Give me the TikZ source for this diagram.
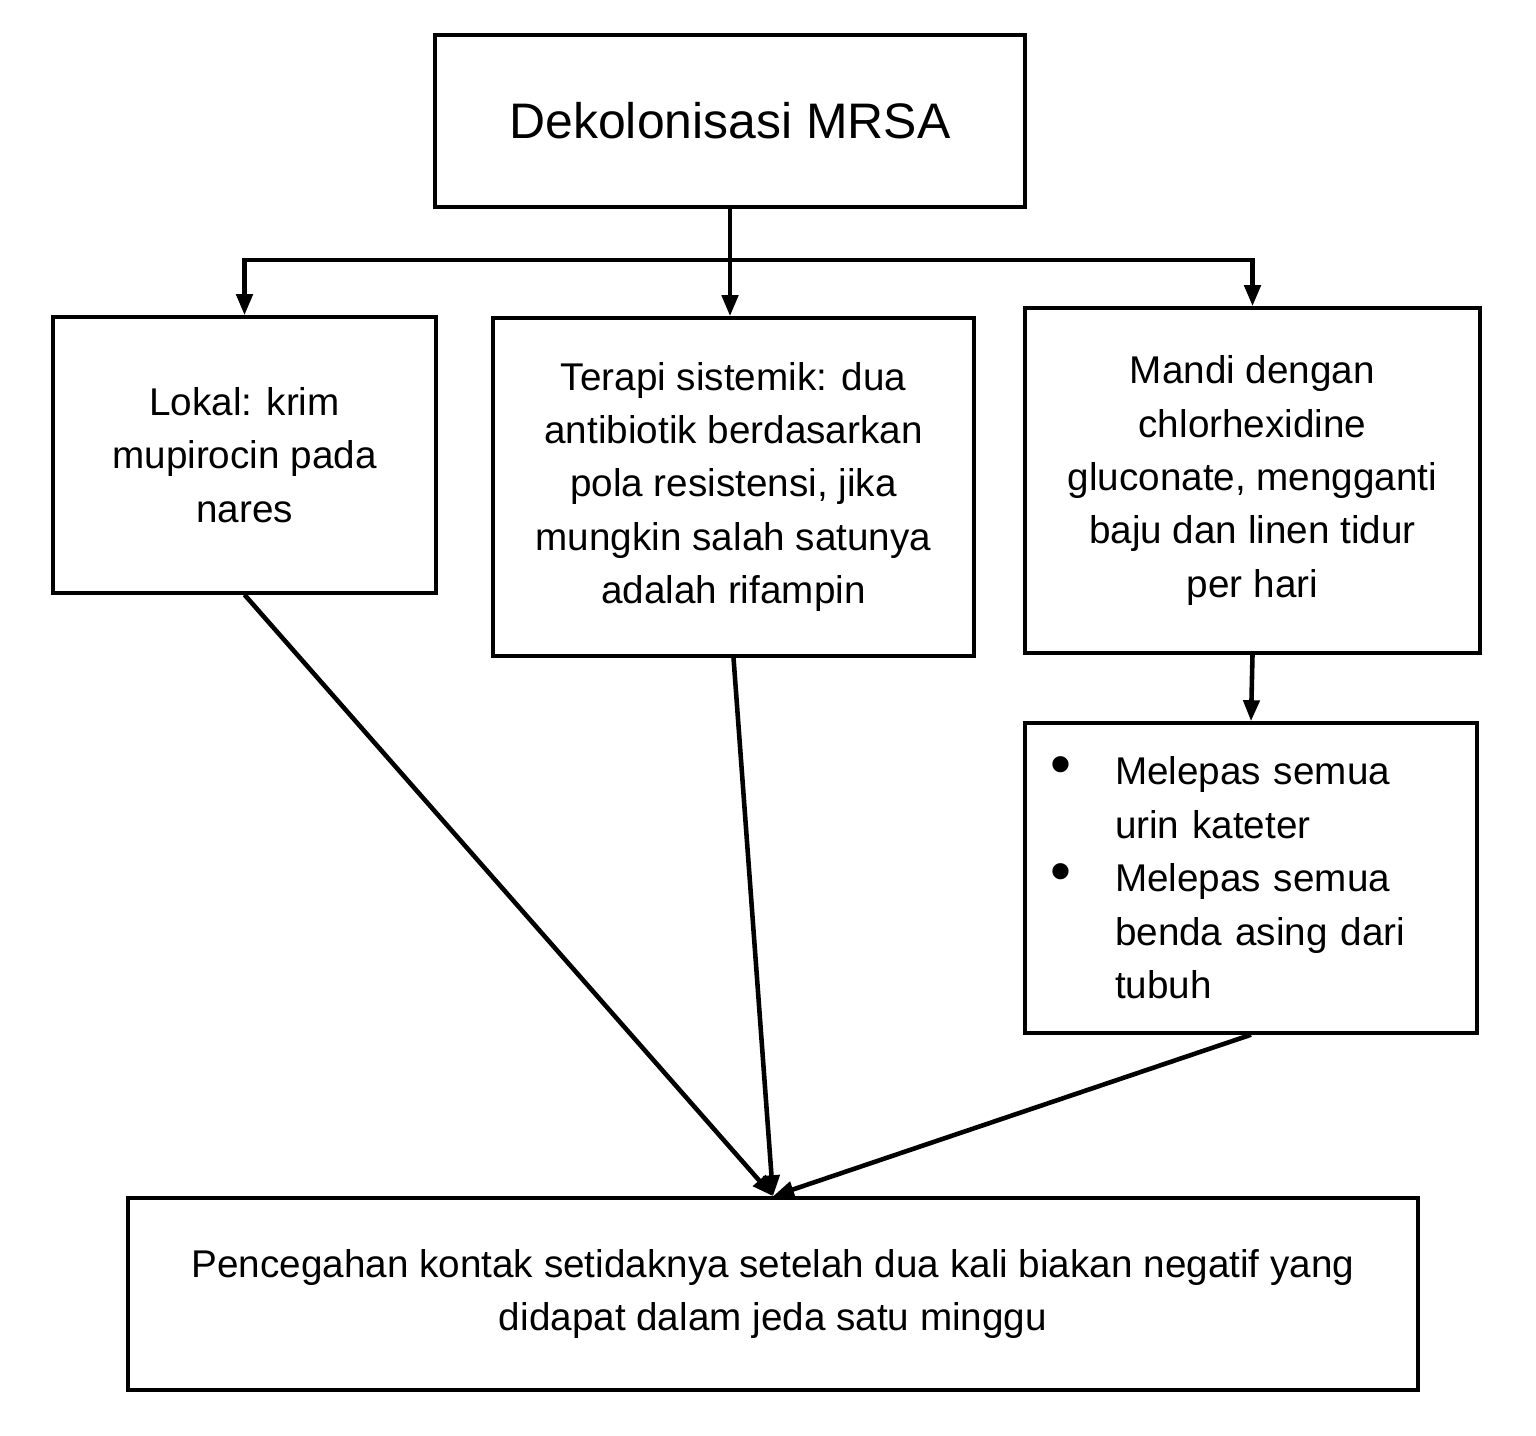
\documentclass[tikz,border=0pt]{standalone}
\usepackage{fontspec}
\setmainfont{Liberation Sans}
\usepackage{tikz}
\usetikzlibrary{arrows.meta,positioning}

\newcommand{\bigdot}{\makebox[0.6cm][l]{\hspace*{-0.05cm}{\fontsize{17}{15.2}\selectfont\textbullet}}}

\begin{document}
\begin{tikzpicture}[
  >={Triangle[length=0.21cm,width=0.16cm]},
  box/.style={draw=black, line width=1pt, fill=white, align=center, inner sep=0pt, font=\fontsize{11}{15.2}\selectfont},
  link/.style={->, line width=1.3pt}
]
\useasboundingbox (0,0) rectangle (15.36,14.36);

\node[box, minimum width=5.90cm, minimum height=1.72cm, font=\fontsize{14.2}{17}\selectfont] (dekol) at (7.30,13.15) {Dekolonisasi MRSA};

\node[box, minimum width=3.83cm, minimum height=2.76cm] (lokal) at (2.445,9.81) {Lokal: krim\\mupirocin pada\\nares};
\node[box, minimum width=4.81cm, minimum height=3.38cm] (terapi) at (7.335,9.49) {Terapi sistemik: dua\\antibiotik berdasarkan\\pola resistensi, jika\\mungkin salah satunya\\adalah rifampin};
\node[box, minimum width=4.55cm, minimum height=3.45cm] (mandi) at (12.525,9.555) {Mandi dengan\\chlorhexidine\\gluconate, mengganti\\baju dan linen tidur\\per hari};
\node[box, minimum width=4.52cm, minimum height=3.10cm, text width=3.92cm, align=left] (lepas) at (12.51,5.58) {\bigdot Melepas semua\\\hspace*{0.6cm}urin kateter\\\bigdot Melepas semua\\\hspace*{0.6cm}benda asing dari\\\hspace*{0.6cm}tubuh};

\node[box, minimum width=12.90cm, minimum height=1.92cm] (cegah) at (7.73,1.42) {Pencegahan kontak setidaknya setelah dua kali biakan negatif yang\\didapat dalam jeda satu minggu};

% cabang dari judul
\coordinate (split) at (7.30,11.76);
\draw[line width=1.3pt] (dekol.south) -- (split);
\draw[link] (split) -| (lokal.north);
\draw[link] (split) -- (split |- terapi.north);
\draw[link] (split) -| (mandi.north);
\draw[link] (mandi.south) -- (lepas.north);

% menuju pencegahan
\draw[link] (lokal.south) -- (cegah.north);
\draw[link] (terapi.south) -- (cegah.north);
\draw[link] (lepas.south) -- (cegah.north);
\end{tikzpicture}
\end{document}
